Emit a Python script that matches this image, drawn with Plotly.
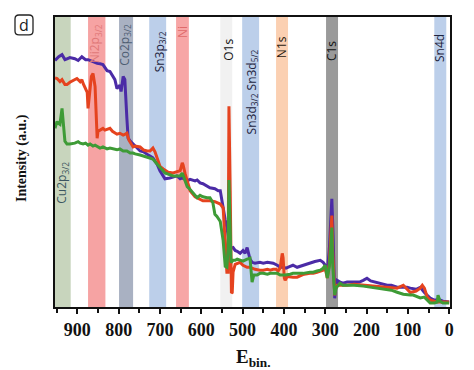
import plotly.graph_objects as go

# ---------------- data ----------------
E_purple = [954, 945, 937, 930, 925, 918, 906, 898, 889, 880, 874, 862, 852, 845, 838, 828, 821, 809, 804,
            797, 794, 789, 785, 780, 777, 772, 768, 760, 748, 740, 731, 724, 717, 712, 707, 700, 692, 688,
            676, 668, 659, 651, 646, 639, 634, 627, 615, 610, 603, 596, 586, 579, 567, 559, 554, 547, 542,
            538, 533, 530, 523, 518, 513, 506, 499, 494, 489, 482, 477, 470, 458, 450, 440, 426, 416, 409,
            402, 395, 385, 378, 368, 354, 345, 337, 325, 312, 305, 300, 295, 290, 287, 284, 281, 279, 277,
            275, 271, 264, 257, 247, 230, 217, 208, 199, 190, 180, 167, 150, 140, 126, 111, 102, 94, 80, 70,
            60, 46, 36, 29, 22, 15, 5, 0]
I_purple = [85.0, 86.3, 87.0, 85.3, 85.6, 86.0, 85.6, 85.0, 86.3, 85.3, 85.3, 84.6, 84.0, 83.9, 83.6, 81.5,
            81.2, 78.4, 75.3, 76.5, 74.3, 79.5, 78.5, 65.0, 58.2, 57.2, 56.5, 55.5, 53.8, 53.5, 52.7, 52.1,
            51.4, 50.3, 49.3, 47.0, 44.8, 44.2, 44.5, 44.8, 45.2, 44.2, 44.5, 44.0, 43.5, 44.0, 43.5, 43.8,
            42.8, 42.5, 41.8, 41.1, 40.8, 40.1, 40.1, 33.2, 30.0, 27.4, 22.9, 20.2, 20.5, 19.5, 19.2, 18.5,
            19.5, 18.5, 20.5, 16.5, 15.4, 15.1, 15.4, 15.1, 15.4, 15.1, 14.4, 13.7, 13.7, 13.4, 14.0, 14.4,
            13.7, 14.4, 14.8, 15.1, 15.7, 16.1, 15.4, 14.4, 12.0, 20.0, 30.0, 37.3, 25.0, 8.0, 3.0, 6.0,
            9.2, 8.6, 8.2, 8.6, 8.6, 8.6, 9.2, 9.9, 9.0, 8.6, 8.2, 7.5, 7.5, 6.8, 6.8, 6.8, 6.5, 6.1, 6.8,
            5.0, 3.1, 2.4, 2.4, 2.4, 2.0, 1.7, 1.7]

E_red = [954, 949, 942, 937, 930, 925, 918, 906, 901, 893, 889, 886, 880, 876, 874, 871, 866, 862, 857, 852,
         850, 845, 838, 833, 828, 821, 815, 809, 804, 797, 789, 784, 780, 775, 768, 765, 760, 748, 740, 731,
         724, 717, 712, 705, 700, 692, 680, 668, 659, 651, 646, 644, 639, 634, 627, 615, 610, 603, 596, 586,
         579, 567, 562, 554, 547, 542, 538, 535, 533, 530, 527, 525, 523, 518, 513, 506, 499, 489, 482, 470,
         458, 450, 440, 433, 426, 419, 414, 409, 404, 402, 399, 397, 392, 385, 378, 368, 354, 337, 329, 320,
         312, 305, 300, 295, 290, 286, 284, 282, 279, 277, 276, 271, 264, 257, 247, 230, 208, 190, 167, 140,
         126, 111, 102, 94, 80, 70, 65, 60, 53, 46, 36, 29, 15, 5, 0]
I_red = [79.0, 78.8, 77.7, 78.4, 76.7, 76.7, 77.5, 78.4, 78.8, 77.7, 78.4, 77.1, 75.5, 74.0, 68.5, 72.0, 79.5,
         80.5, 76.0, 58.2, 60.6, 61.0, 61.6, 61.0, 61.3, 61.6, 60.6, 60.0, 59.6, 59.9, 59.3, 59.6, 59.9, 57.5,
         55.8, 55.2, 55.5, 55.2, 54.2, 53.8, 53.8, 54.8, 53.5, 50.3, 48.5, 47.6, 46.5, 46.2, 46.5, 47.0, 49.7,
         49.0, 45.9, 43.8, 40.1, 38.0, 37.7, 37.0, 36.6, 36.6, 36.6, 36.3, 36.0, 35.5, 34.2, 20.0, 12.0, 12.0,
         69.2, 40.0, 4.8, 5.0, 12.0, 14.7, 15.1, 15.4, 14.4, 13.7, 13.7, 13.0, 12.7, 12.7, 13.0, 12.7, 13.0,
         13.0, 12.4, 13.5, 18.5, 17.0, 10.0, 9.2, 10.5, 10.3, 10.3, 10.3, 11.2, 11.6, 11.6, 12.0, 12.4, 12.7,
         13.4, 10.0, 15.0, 28.0, 31.5, 20.0, 5.8, 4.0, 6.0, 7.5, 7.5, 7.5, 7.5, 7.8, 7.5, 7.2, 6.8, 6.5, 6.5,
         7.5, 6.0, 5.0, 5.5, 6.5, 7.5, 6.5, 3.4, 2.4, 2.0, 1.7, 1.7, 1.7, 1.7]

E_green = [954, 949, 947, 942, 937, 934, 930, 925, 918, 906, 898, 893, 886, 880, 874, 869, 862, 857, 850, 845,
           838, 828, 821, 809, 804, 797, 789, 780, 772, 765, 760, 748, 740, 731, 724, 717, 707, 700, 692, 688,
           676, 668, 659, 651, 646, 639, 634, 627, 615, 610, 603, 596, 586, 579, 572, 567, 562, 559, 554, 547,
           542, 538, 535, 533, 530, 528, 523, 518, 513, 506, 499, 489, 482, 477, 473, 465, 458, 450, 440, 433,
           426, 416, 409, 402, 397, 385, 378, 368, 354, 337, 329, 320, 312, 305, 300, 295, 290, 286, 284, 282,
           279, 277, 274, 264, 257, 247, 230, 208, 190, 167, 140, 126, 111, 94, 87, 70, 60, 46, 36, 29, 27, 22,
           15, 5, 0]
I_green = [61.6, 64.0, 63.5, 63.0, 68.5, 64.0, 57.2, 56.2, 56.2, 56.5, 57.0, 56.5, 56.2, 56.5, 55.8, 56.2,
           55.5, 55.8, 55.2, 54.8, 55.2, 54.5, 54.8, 54.5, 54.2, 54.5, 53.8, 53.8, 53.1, 53.1, 52.8, 52.4, 52.1,
           51.7, 51.4, 51.0, 49.3, 48.3, 46.9, 46.2, 45.5, 45.2, 45.2, 45.2, 46.2, 43.8, 41.5, 40.5, 38.7, 37.7,
           38.5, 38.0, 37.7, 37.7, 36.0, 32.0, 31.2, 30.5, 29.5, 22.9, 14.0, 13.7, 20.0, 43.8, 30.0, 15.4, 16.1,
           16.1, 16.5, 16.1, 15.8, 16.5, 16.8, 8.6, 11.0, 11.0, 11.6, 11.6, 11.3, 11.6, 11.6, 11.6, 11.0, 11.0,
           11.0, 11.3, 11.6, 11.6, 11.6, 12.0, 12.0, 12.4, 12.7, 13.4, 14.4, 10.0, 14.0, 22.0, 27.4, 15.0, 4.8,
           4.1, 6.5, 8.2, 7.5, 7.5, 7.5, 7.2, 6.8, 6.5, 5.8, 5.1, 4.4, 4.1, 4.1, 3.1, 3.4, 1.4, 1.4, 1.7, 4.1,
           2.0, 1.4, 1.4, 1.4]

# reference bands: name, E_high, E_low
band_labels = ["Cu2p<sub>3/2</sub>", "Ni2p<sub>3/2</sub>", "Co2p<sub>3/2</sub>", "Sn3p<sub>3/2</sub>", "Ni",
               "O1s", "Sn3d<sub>3/2</sub> Sn3d<sub>5/2</sub>", "N1s", "C1s", "Sn4d"]
band_hi = [954, 874, 799, 726, 661, 554, 501, 419, 298, 36]
band_lo = [916, 832, 765, 685, 630, 525, 460, 390, 269, 7]
band_label_E = [937, 855, 785, 700, 644, 533, 477, 404, 283, 22]

xtick_vals = [900, 800, 700, 600, 500, 400, 300, 200, 100, 0]
xtick_text = ["900", "800", "700", "600", "500", "400", "300", "200", "100", "0"]

# ---------------- styling ----------------
# the page body has an 8px margin, so the figure is drawn 8px smaller and offset
OFF = 8
W, H = 474 - OFF, 370 - OFF
L, R, T, B = 55 - OFF, 450 - OFF, 15 - OFF, 307 - OFF

def px(xp, yp):
    # xp, yp given in window pixels
    xp -= OFF
    yp -= OFF
    return (xp - L) / (R - L), (B - yp) / (B - T)

band_colors = ["#c8d5bd", "#f6a3a3", "#a9b1c2", "#bccfea", "#f7a6a6", "#f1f1f1", "#bccfea", "#fbd0b2",
               "#9a9a9a", "#bccfea"]
label_colors = ["#3b5560", "#e07878", "#4e5d72", "#1e2440", "#e06a6a", "#111111", "#1e2440", "#2a1a10",
                "#111111", "#1e2440"]
label_top_px = [None, 20, 20, 27, 22, 35, 46, 32, 37, 30]

fig = go.Figure()
for E, I, c in [(E_purple, I_purple, "#4b2ba6"), (E_red, I_red, "#e5431f"), (E_green, I_green, "#3e9b36")]:
    fig.add_trace(go.Scatter(x=E, y=I, mode="lines", line=dict(color=c, width=3), showlegend=False,
                             hoverinfo="skip"))

shapes = []
for hi, lo, col in zip(band_hi, band_lo, band_colors):
    shapes.append(dict(type="rect", xref="x", yref="paper", x0=hi, x1=lo, y0=0, y1=1,
                       fillcolor=col, line=dict(width=0), layer="below"))

# rounded box for panel label "d"
x0, x1, y0, y1, r = 15, 33, 13, 33, 4
def P(a, b):
    u, v = px(a, b)
    return f"{u:.5f},{v:.5f}"
path = (f"M {P(x0+r,y0)} L {P(x1-r,y0)} Q {P(x1,y0)} {P(x1,y0+r)} L {P(x1,y1-r)} Q {P(x1,y1)} {P(x1-r,y1)} "
        f"L {P(x0+r,y1)} Q {P(x0,y1)} {P(x0,y1-r)} L {P(x0,y0+r)} Q {P(x0,y0)} {P(x0+r,y0)} Z")
shapes.append(dict(type="path", xref="paper", yref="paper", path=path, line=dict(color="#222", width=1.3),
                   fillcolor="white", layer="above"))

annotations = []
for lab, e, col, top in zip(band_labels, band_label_E, label_colors, label_top_px):
    if top is None:
        _, yp = px(0, 205)
        anchor = "bottom"
    else:
        _, yp = px(0, top)
        anchor = "top"
    annotations.append(dict(x=e, y=yp, xref="x", yref="paper", text=lab, textangle=-90, showarrow=False,
                            xanchor="center", yanchor=anchor,
                            font=dict(family="Open Sans", size=12, color=col)))

ax, ay = px(24, 23)
annotations.append(dict(x=ax, y=ay, xref="paper", yref="paper", text="d", showarrow=False,
                        xanchor="center", yanchor="middle", font=dict(family="Open Sans", size=16, color="#222")))
tx, ty = px(22, 157)
annotations.append(dict(x=tx, y=ty, xref="paper", yref="paper", text="<b>Intensity (a.u.)</b>", textangle=-90,
                        showarrow=False, xanchor="center", yanchor="middle",
                        font=dict(family="Liberation Serif", size=14, color="#111")))
bx, by = px(253, 358)
annotations.append(dict(x=bx, y=by, xref="paper", yref="paper", text="<b>E<sub>bin.</sub></b>",
                        showarrow=False, xanchor="center", yanchor="middle",
                        font=dict(family="Liberation Serif", size=19, color="#111")))

fig.update_layout(
    width=W, height=H, margin=dict(l=L, r=W - R, t=T, b=H - B),
    paper_bgcolor="white", plot_bgcolor="white",
    shapes=shapes, annotations=annotations,
    xaxis=dict(range=[954, -2], tickvals=xtick_vals, ticktext=xtick_text, ticks="outside", ticklen=5,
               tickwidth=1.5, tickcolor="#111", showline=True, linecolor="#111", linewidth=2, mirror=True,
               showgrid=False, zeroline=False,
               tickfont=dict(family="Liberation Serif", size=18, color="#111", weight="bold"),
               minor=dict(dtick=50, tick0=0, ticks="outside", ticklen=4, tickwidth=1.5, tickcolor="#111")),
    yaxis=dict(range=[0, 100], showticklabels=False, ticks="", showline=True, linecolor="#111", linewidth=2,
               mirror=True, showgrid=False, zeroline=False),
)

fig.write_html("out.html")
